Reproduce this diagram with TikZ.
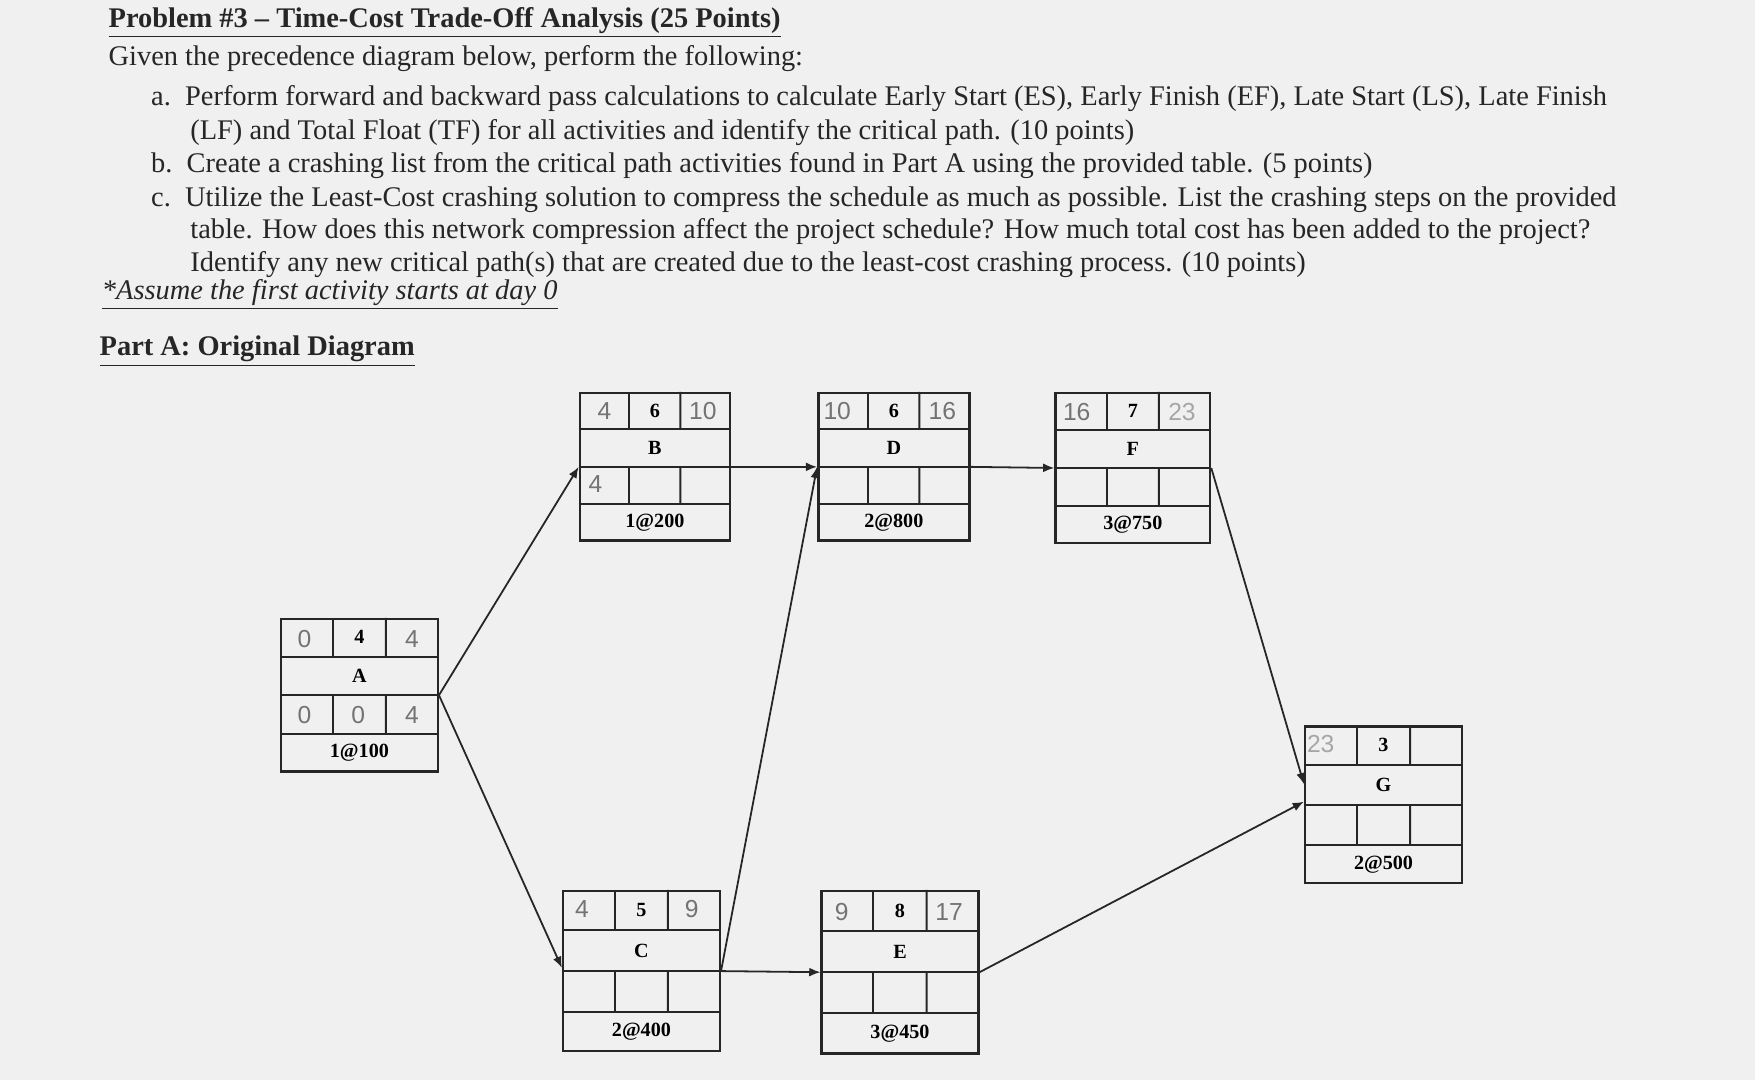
\documentclass[tikz,border=0pt]{standalone}
\usepackage{fontspec}
\setmainfont{Liberation Serif}
\newfontfamily\hand{Liberation Sans}
\usetikzlibrary{calc,arrows.meta}
\tikzset{box/.style={draw=black!85,line width=1.1pt,inner sep=0,anchor=north west},
 cell/.style={draw=black!85,line width=0.9pt},
 lbl/.style={font=\bfseries\fontsize{9}{10}\selectfont},
 hw/.style={font=\hand\fontsize{11}{11}\selectfont,text=black!55},
 link/.style={draw=black!85,line width=0.8pt,-{Latex[length=5pt,width=4pt]}},
 hd/.style={anchor=west,font=\fontsize{12.7}{14}\selectfont,text=black!85}}
\newcommand\abox[8]{%
 \node[box,minimum width={(#4-#2)*0.5pt},minimum height={(#5-#3)*0.5pt}] (#1) at (#2,#3) {};
 \foreach \f in {0.25,0.5,0.75}{\draw[cell] ($(#1.north west)!\f!(#1.south west)$) -- ($(#1.north east)!\f!(#1.south east)$);}
 \foreach \g in {0.3333,0.6667}{
  \draw[cell] ($(#1.north west)!\g!(#1.north east)$) -- ($($(#1.north west)!0.25!(#1.south west)$)!\g!($(#1.north east)!0.25!(#1.south east)$)$);
  \draw[cell] ($($(#1.north west)!0.5!(#1.south west)$)!\g!($(#1.north east)!0.5!(#1.south east)$)$) -- ($($(#1.north west)!0.75!(#1.south west)$)!\g!($(#1.north east)!0.75!(#1.south east)$)$);}
 \node[lbl] (#1d) at ($($(#1.north west)!0.125!(#1.south west)$)!0.5!($(#1.north east)!0.125!(#1.south east)$)$) {#6};
 \node[lbl] (#1n) at ($($(#1.north west)!0.375!(#1.south west)$)!0.5!($(#1.north east)!0.375!(#1.south east)$)$) {#7};
 \node[lbl] (#1c) at ($($(#1.north west)!0.875!(#1.south west)$)!0.5!($(#1.north east)!0.875!(#1.south east)$)$) {#8};
}
\begin{document}
\begin{tikzpicture}[x=0.5pt,y=-0.5pt]
\fill[black!6] (0,0) rectangle (1568,965);
\useasboundingbox (0,0) rectangle (1568,965);
\node[hd,font=\bfseries\fontsize{12.7}{14}\selectfont] (t0) at (90,20) {\underline{Problem \#3 -- Time-Cost Trade-Off Analysis (25 Points)}};
\node[hd] (t1) at (90,52) {Given the precedence diagram below, perform the following:};
\node[hd] (t2) at (128,88) {a.\ \ Perform forward and backward pass calculations to calculate Early Start (ES), Early Finish (EF), Late Start (LS), Late Finish};
\node[hd] (t3) at (163,118) {(LF) and Total Float (TF) for all activities and identify the critical path. (10 points)};
\node[hd] (t4) at (128,148) {b.\ \ Create a crashing list from the critical path activities found in Part A using the provided table. (5 points)};
\node[hd] (t5) at (128,178) {c.\ \ Utilize the Least-Cost crashing solution to compress the schedule as much as possible. List the crashing steps on the provided};
\node[hd] (t6) at (163,207) {table. How does this network compression affect the project schedule? How much total cost has been added to the project?};
\node[hd] (t7) at (163,236) {Identify any new critical path(s) that are created due to the least-cost crashing process. (10 points)};
\node[hd] (t8) at (84,263) {\underline{\itshape *Assume the first activity starts at day 0}};
\node[hd,font=\bfseries\fontsize{12.7}{14}\selectfont] (t9) at (82,314) {\underline{Part A: Original Diagram}};
\abox{A}{250}{552}{390}{688}{4}{A}{1@100}
\abox{B}{517}{350}{651}{482}{6}{B}{1@200}
\abox{D}{730}{350}{865}{482}{6}{D}{2@800}
\abox{F}{942}{350}{1080}{484}{7}{F}{3@750}
\abox{G}{1165}{648}{1305}{788}{3}{G}{2@500}
\abox{C}{502}{795}{642}{938}{5}{C}{2@400}
\abox{E}{733}{795}{873}{940}{8}{E}{3@450}
% handwritten values
\node[hw] (a1) at (272,571) {0}; \node[hw] (a2) at (368,571) {4};
\node[hw] (a3) at (272,639) {0}; \node[hw] (a4) at (320,639) {0}; \node[hw] (a5) at (368,639) {4};
\node[hw] (b1) at (540,367) {4}; \node[hw] (b2) at (628,367) {10}; \node[hw] (b3) at (532,432) {4};
\node[hw] (d1) at (748,367) {10}; \node[hw] (d2) at (842,367) {16};
\node[hw] (f1) at (962,368) {16}; \node[hw,text=black!35] (f2) at (1056,368) {23};
\node[hw,text=black!35] (g1) at (1180,665) {23};
\node[hw] (c1) at (520,812) {4}; \node[hw] (c2) at (618,812) {9};
\node[hw] (e1) at (752,815) {9}; \node[hw] (e2) at (848,815) {17};
% links
\draw[link] (A.east) -- ($(B.north west)!0.5!(B.south west)$);
\draw[link] (A.east) -- ($(C.north west)!0.48!(C.south west)$);
\draw[link] ($(B.north east)!0.5!(B.south east)$) -- ($(D.north west)!0.5!(D.south west)$);
\draw[link] ($(C.north east)!0.5!(C.south east)$) -- ($(D.north west)!0.5!(D.south west)$);
\draw[link] ($(D.north east)!0.5!(D.south east)$) -- ($(F.north west)!0.5!(F.south west)$);
\draw[link] ($(C.north east)!0.5!(C.south east)$) -- ($(E.north west)!0.5!(E.south west)$);
\draw[link] ($(F.north east)!0.5!(F.south east)$) -- ($(G.north west)!0.37!(G.south west)$);
\draw[link] ($(E.north east)!0.5!(E.south east)$) -- ($(G.north west)!0.48!(G.south west)$);
\end{tikzpicture}
\end{document}
